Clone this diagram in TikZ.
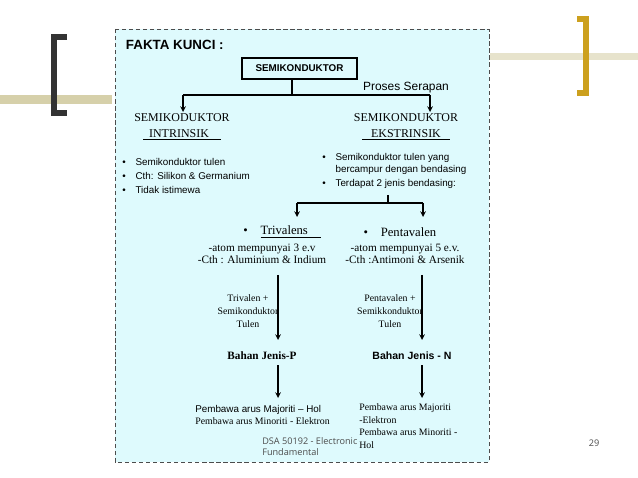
\documentclass[tikz,border=0pt]{standalone}
\usepackage{fontspec}
\setmainfont{Liberation Serif}
\newfontfamily\sansf{Liberation Sans}
\newfontfamily\footf{Open Sans}
\usetikzlibrary{arrows}
\definecolor{panel}{RGB}{222,250,253}
\definecolor{gold}{RGB}{204,160,30}
\definecolor{olive}{RGB}{214,208,170}
\tikzset{
	flow/.style = {
		->, >=stealth, thick, black
	},
	link/.style = {
		thick, black
	},
	serif/.style = {
		font=\fontsize{8}{9}\selectfont, align=center, inner sep=0pt
	},
	sans/.style = {
		font=\sansf\fontsize{7}{8}\selectfont, align=left, inner sep=0pt
	}
}
\begin{document}
\begin{tikzpicture}[x=0.025cm,y=-0.025cm]
		\useasboundingbox (0,0) rectangle (638,478);
		\fill[white] (0,0) rectangle (638,478);
		% slide decoration
		\fill[olive] (0,95) rectangle (112,104);
		\fill[olive!60] (490,53) rectangle (638,60);
		\draw[line width=4pt, black!80] (67,37) -- (54,37) -- (54,113) -- (67,113);
		\draw[line width=4pt, gold] (577,19) -- (586,19) -- (586,93) -- (577,93);
		% panel
		\filldraw[fill=panel, draw=black!70, densely dashed] (115,29) rectangle (489,462);
		\node[anchor=west, font=\sansf\bfseries\fontsize{9.5}{10}\selectfont] (title) at (121,45) {FAKTA KUNCI :};
		\node[draw, thick, minimum width=2.875cm, minimum height=0.525cm, font=\sansf\bfseries\fontsize{7}{8}\selectfont] (semi) at (299.5,68.5) {SEMIKONDUKTOR};
		\coordinate (s0) at (292,79);
		\coordinate (s1) at (292,95);
		\coordinate (sl) at (183,95);
		\coordinate (sr) at (430,95);
		\coordinate (il) at (183,112);
		\coordinate (er) at (430,112);
		\draw[link] (s0) -- (s1);
		\draw[link] (sl) -- (sr);
		\draw[flow] (sl) -- (il);
		\draw[flow] (sr) -- (er);
		\node[sans, font=\sansf\fontsize{8.5}{9}\selectfont] (serap) at (406,88) {Proses Serapan};
		\node[serif, font=\fontsize{8.5}{10}\selectfont] (intr) at (182,127) {SEMIKODUKTOR\\[1pt]\underline{\ \ INTRINSIK\ \ \ \ }};
		\node[serif, font=\fontsize{8.5}{10}\selectfont] (ekst) at (406,127) {SEMIKONDUKTOR\\[1pt]\underline{\ \ \ EKSTRINSIK\ \ \ }};
		\node[sans, anchor=west] (b1) at (122,176) {\textbullet\quad Semikonduktor tulen\\[2pt]\textbullet\quad Cth: Silikon \& Germanium\\[2pt]\textbullet\quad Tidak istimewa};
		\node[sans, anchor=west] (b2) at (322,171) {\textbullet\quad Semikonduktor tulen yang\\\phantom{\textbullet}\quad bercampur dengan bendasing\\[2pt]\textbullet\quad Terdapat 2 jenis bendasing:};
		\coordinate (t0) at (388,195);
		\coordinate (t1) at (388,203);
		\coordinate (tl) at (297,203);
		\coordinate (tr) at (423,203);
		\draw[link] (t0) -- (t1);
		\draw[link] (tl) -- (tr);
		\draw[flow] (tl) -- (297,217);
		\draw[flow] (tr) -- (423,217);
		\node[serif, font=\fontsize{9}{10}\selectfont] (tri) at (282,232) {\textbullet\quad \underline{Trivalens\ \ \ \ }};
		\node[serif, font=\fontsize{9}{10}\selectfont] (pen) at (400,232) {\textbullet\quad Pentavalen};
		\node[serif] (tria) at (262,254) {-atom mempunyai 3 e.v\\-Cth : Aluminium \& Indium};
		\node[serif] (pena) at (405,254) {-atom mempunyai 5 e.v.\\-Cth :Antimoni \& Arsenik};
		\coordinate (ta) at (278,275);
		\coordinate (pa) at (422,275);
		\node[serif, font=\fontsize{7}{9}\selectfont] (trl) at (248,311) {Trivalen +\\Semikonduktor\\Tulen};
		\node[serif, font=\fontsize{7}{9}\selectfont] (pel) at (390,311) {Pentavalen +\\Semikkonduktor\\Tulen};
		\node[serif, font=\bfseries\fontsize{8}{9}\selectfont] (jp) at (262,356) {Bahan Jenis-P};
		\node[serif, font=\sansf\bfseries\fontsize{7.5}{9}\selectfont] (jn) at (412,356) {Bahan Jenis - N};
		\draw[flow] (ta) -- (278,340);
		\draw[flow] (pa) -- (422,340);
		\draw[flow] (278,365) -- (278,398);
		\draw[flow] (422,365) -- (422,398);
		\node[sans, anchor=west] (bl) at (195,415) {Pembawa arus Majoriti \textendash{} Hol\\[1pt]{\rmfamily Pembawa arus Minoriti - Elektron}};
		\node[serif, anchor=west, align=left, font=\fontsize{7}{9}\selectfont] (br) at (359,426) {Pembawa arus Majoriti\\-Elektron\\Pembawa arus Minoriti -\\Hol};
		\node[anchor=north west, align=left, inner sep=0pt, text=black!70, font=\footf\fontsize{6.5}{8}\selectfont] (foot) at (262,437) {DSA 50192 - Electronic\\Fundamental};
		\node[text=black!70, font=\footf\fontsize{6.5}{8}\selectfont] (page) at (594,443) {29};
	\end{tikzpicture}
\end{document}
